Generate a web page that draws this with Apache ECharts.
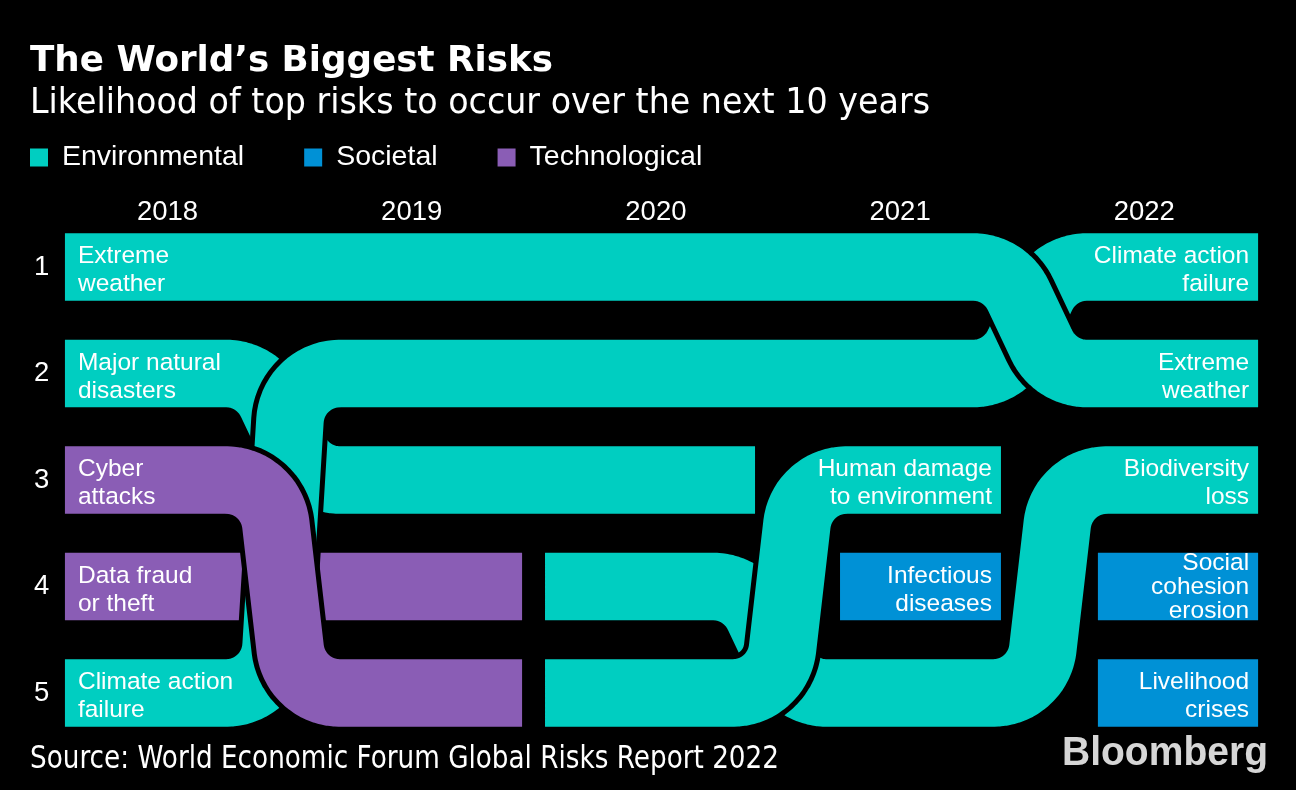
<!DOCTYPE html>
<html><head><meta charset="utf-8">
<script src="https://cdn.jsdelivr.net/npm/echarts@6/dist/echarts.min.js"></script>
<style>html,body{margin:0;padding:0;background:#000;}#chart{width:1296px;height:790px;}</style>
</head><body><div id="chart"></div>
<script>
// ---------- data ----------
const years = ['2018', '2019', '2020', '2021', '2022'];
const rankLabels = ['1', '2', '3', '4', '5'];
const categories = ['Environmental', 'Societal', 'Technological'];
const riskNames = ['Data fraud or theft', 'Major natural disasters', 'Climate action failure', 'Cyber attacks',
  'Biodiversity loss', 'Human damage to environment', 'Infectious diseases', 'Extreme weather',
  'Social cohesion erosion', 'Livelihood crises'];
const riskLabels = ['Data fraud\nor theft', 'Major natural\ndisasters', 'Climate action\nfailure', 'Cyber\nattacks',
  'Biodiversity\nloss', 'Human damage\nto environment', 'Infectious\ndiseases', 'Extreme\nweather',
  'Social\ncohesion\nerosion', 'Livelihood\ncrises'];
const riskCategory = ['Technological', 'Environmental', 'Environmental', 'Technological', 'Environmental',
  'Environmental', 'Societal', 'Environmental', 'Societal', 'Societal'];
// rank per year 2018..2022 (null = not in the top 5)
const ranksDataFraud = [4, 4, null, null, null];
const ranksNaturalDisasters = [2, 3, 3, null, null];
const ranksClimateAction = [5, 2, 2, 2, 1];
const ranksCyber = [3, 5, null, null, null];
const ranksBiodiversity = [null, null, 4, 5, 3];
const ranksHumanDamage = [null, null, 5, 3, null];
const ranksInfectious = [null, null, null, 4, null];
const ranksExtremeWeather = [1, 1, 1, 1, 2];
const ranksSocialCohesion = [null, null, null, null, 4];
const ranksLivelihood = [null, null, null, null, 5];
const ranks = [ranksDataFraud, ranksNaturalDisasters, ranksClimateAction, ranksCyber, ranksBiodiversity,
  ranksHumanDamage, ranksInfectious, ranksExtremeWeather, ranksSocialCohesion, ranksLivelihood];

const titleText = 'The World\u2019s Biggest Risks';
const subtitleText = 'Likelihood of top risks to occur over the next 10 years';
const sourceText = 'Source: World Economic Forum Global Risks Report 2022';
const logoText = 'Bloomberg';

// ---------- layout / style ----------
const COLORS = { Environmental: '#00cec1', Societal: '#0091d6', Technological: '#8a5db5' };
const FONT = '"Liberation Sans", Arial, sans-serif';
const DV = '"DejaVu Sans", sans-serif';
const START_OFF = [-0.42, -0.45, -0.454, -0.246, -0.19];   // band fractions from column centre
const END_OFF = [0.45, 0.452, 0.406, 0.413, 0.466];
const GAP_FRAC = [0.473, 0.5, 0.467, 0.532];
const GAP_OVERRIDE = { 'Human damage to environment|2': 0.548, 'Biodiversity loss|3': 0.614 };

const measureCtx = document.createElement('canvas').getContext('2d');
function fitScale(text, font, width) { measureCtx.font = font; return width / measureCtx.measureText(text).width; }

function transitionPts(x0, y0, x1, y1, R) {
  const s = y1 > y0 ? 1 : -1;
  const dx = x1 - x0, dy = Math.abs(y1 - y0);
  R = Math.min(R, dx / 2 * 0.98, dy / 2 * 0.98);
  const f = th => 2 * R * (1 - Math.cos(th)) + (dx - 2 * R * Math.sin(th)) * Math.tan(th) - dy;
  let lo = 0, hi = Math.PI / 2 - 1e-6;
  for (let it = 0; it < 60; it++) { const m = (lo + hi) / 2; if (f(m) > 0) hi = m; else lo = m; }
  const th = (lo + hi) / 2;
  const pts = [], N = 18;
  for (let j = 0; j <= N; j++) { const ph = th * j / N; pts.push([x0 + R * Math.sin(ph), y0 + s * R * (1 - Math.cos(ph))]); }
  for (let j = N; j >= 0; j--) { const ph = th * j / N; pts.push([x1 - R * Math.sin(ph), y1 - s * R * (1 - Math.cos(ph))]); }
  return pts;
}

function renderRibbon(params, api) {
  const k = params.dataIndex;
  const r = ranks[k];
  const sz = api.size([1, 1]);
  const bw = sz[0], rowH = sz[1];
  const w = 0.634 * rowH, h = 0.233 * bw, R = 0.47 * rowH;
  const pt = (i, rank) => api.coord([i, rank - 1]);
  let f = -1, l = -1;
  r.forEach((v, i) => { if (v != null) { if (f < 0) f = i; l = i; } });
  const pts = [];
  const p0 = pt(f, r[f]);
  const xs = p0[0] + START_OFF[f] * bw;
  pts.push([xs, p0[1]]);
  for (let i = f + 1; i <= l; i++) {
    if (r[i] !== r[i - 1]) {
      const c = pt(i - 1, r[i - 1]);
      const key = riskNames[k] + '|' + (i - 1);
      const frac = GAP_OVERRIDE[key] != null ? GAP_OVERRIDE[key] : GAP_FRAC[i - 1];
      const xc = c[0] + frac * bw;
      const y1 = pt(i, r[i])[1];
      pts.push(...transitionPts(xc - h, c[1], xc + h, y1, R));
    }
  }
  const p1 = pt(l, r[l]);
  const xe = p1[0] + END_OFF[l] * bw;
  pts.push([xe, p1[1]]);
  const color = COLORS[riskCategory[k]];
  const children = [
    { type: 'polyline', shape: { points: pts }, z2: k * 2,
      style: { stroke: '#000', lineWidth: w + 10, fill: null, lineCap: 'butt', lineJoin: 'round' } },
    { type: 'polyline', shape: { points: pts }, z2: k * 2 + 1,
      style: { stroke: color, lineWidth: w, fill: null, lineCap: 'butt', lineJoin: 'round' } }
  ];
  const lines = riskLabels[k].split('\n').length;
  const lh = lines > 2 ? 24 : 28;
  const labelFont = '24.5px ' + FONT;
  const dy = lines > 2 ? 1 : 3.5;
  if (f === 0) {
    children.push({ type: 'text', x: xs + 13, y: p0[1] + dy, z2: 100,
      style: { text: riskLabels[k], fill: '#fff', font: labelFont, align: 'left', verticalAlign: 'middle', lineHeight: lh } });
  }
  if (l >= 3) {
    children.push({ type: 'text', x: xe - 9, y: p1[1] + dy, z2: 100,
      style: { text: riskLabels[k], fill: '#fff', font: labelFont, align: 'right', verticalAlign: 'middle', lineHeight: lh } });
  }
  return { type: 'group', children };
}

const TITLE_FONT = 'bold 36px ' + DV;
const SUB_FONT = '36px ' + DV;
const SOURCE_FONT = '31.5px ' + DV;
const LOGO_FONT = 'bold 40px ' + FONT;

const chart = echarts.init(document.getElementById('chart'), null, { width: 1296, height: 790 });
chart.setOption({
  backgroundColor: '#000',
  animation: false,
  grid: { left: 45.4, right: 29.6, top: 213.75, bottom: 43.75, containLabel: false, outerBoundsMode: 'none' },
  legend: {
    data: categories, left: 30, top: 143, padding: 0, itemWidth: 18, itemHeight: 18, itemGap: 60,
    icon: 'rect', selectedMode: false,
    textStyle: { color: '#fff', fontSize: 28.5, fontFamily: FONT, padding: [0, 0, 0, 9] }
  },
  xAxis: {
    type: 'category', data: years, position: 'top', boundaryGap: true,
    axisLine: { show: false }, axisTick: { show: false }, splitLine: { show: false },
    axisLabel: { color: '#fff', fontSize: 27.5, fontFamily: FONT, margin: -13 }
  },
  yAxis: {
    type: 'category', data: rankLabels, inverse: true, boundaryGap: true,
    axisLine: { show: false }, axisTick: { show: false }, splitLine: { show: false },
    axisLabel: { color: '#fff', fontSize: 27.5, fontFamily: FONT, margin: -4, padding: [4, 0, 0, 0] }
  },
  graphic: [
    { type: 'text', x: 30, y: 61.5, scaleX: fitScale(titleText, TITLE_FONT, 523),
      style: { text: titleText, font: TITLE_FONT, fill: '#fff', align: 'left', verticalAlign: 'middle' } },
    { type: 'text', x: 30, y: 103.5, scaleX: fitScale(subtitleText, SUB_FONT, 900),
      style: { text: subtitleText, font: SUB_FONT, fill: '#fff', align: 'left', verticalAlign: 'middle' } },
    { type: 'text', x: 30, y: 759.5, scaleX: fitScale(sourceText, SOURCE_FONT, 749),
      style: { text: sourceText, font: SOURCE_FONT, fill: '#fff', align: 'left', verticalAlign: 'middle' } },
    { type: 'text', x: 1268, y: 754, scaleX: fitScale(logoText, LOGO_FONT, 206),
      style: { text: logoText, font: LOGO_FONT, fill: '#d6d6d6', align: 'right', verticalAlign: 'middle' } }
  ],
  series: [
    {
      type: 'custom', name: 'ribbons', coordinateSystem: 'cartesian2d', silent: true,
      data: ranks.map(() => [0, 0]), encode: { x: 0, y: 1 },
      renderItem: renderRibbon
    },
    ...categories.map(c => ({ type: 'custom', name: c, data: [], itemStyle: { color: COLORS[c] }, renderItem: () => null }))
  ]
});
</script>
</body></html>
